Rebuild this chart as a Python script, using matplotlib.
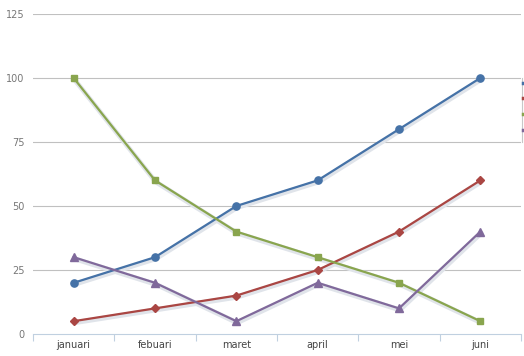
import matplotlib.pyplot as plt
from matplotlib.lines import Line2D
import numpy as np

months = ['januari', 'febuari', 'maret', 'april', 'mei', 'juni']
blue_vals = [20, 30, 50, 60, 80, 100]
red_vals = [5, 10, 15, 25, 40, 60]
green_vals = [100, 60, 40, 30, 20, 5]
purple_vals = [30, 20, 5, 20, 10, 40]
y_ticks = [0, 25, 50, 75, 100, 125]

W, H = 524, 356
fig = plt.figure(figsize=(W / 100, H / 100), dpi=100)
ax = fig.add_axes([33 / W, 1 - 334 / H, 488 / W, 320 / H])

x = np.arange(len(months))
styles = [
    (blue_vals, '#4572A7', 'o', 5.2),
    (red_vals, '#AA4643', 'D', 3.8),
    (green_vals, '#89A54E', 's', 5),
    (purple_vals, '#80699B', '^', 5.5),
]
for vals, color, marker, ms in styles:
    # soft shadow like the original
    ax.plot(x + 0.01, np.array(vals) - 0.6, color='#e0e4ea', lw=3.5, zorder=2,
            solid_capstyle='round')
    ax.plot(x, vals, color=color, lw=1.6, marker=marker, markersize=ms,
            zorder=3)

ax.set_xlim(-0.5, len(months) - 0.5)
ax.set_ylim(0, 125)
ax.set_yticks(y_ticks)
ax.set_yticklabels([str(t) for t in y_ticks])
ax.set_xticks(x)
ax.set_xticklabels(months)
ax.set_xticks(np.arange(-0.5, len(months)), minor=True)

for t in y_ticks[1:]:
    ax.axhline(t, color='#C0C0C0', lw=0.8, zorder=1)

for side in ['top', 'right', 'left']:
    ax.spines[side].set_visible(False)
ax.spines['bottom'].set_color('#C0D0E0')
ax.spines['bottom'].set_linewidth(0.8)

ax.tick_params(axis='y', length=0, labelsize=7, labelcolor='#777777', pad=6)
ax.tick_params(axis='x', which='major', length=0, labelsize=7,
               labelcolor='#444444', pad=4)
ax.tick_params(axis='x', which='minor', length=5, color='#C0D0E0', width=0.8)

# legend is cut off by the right edge: only its symbols peek in
fig.add_artist(Line2D([522 / W, 522 / W], [1 - 78 / H, 1 - 142 / H],
                      color='#C8C8C8', lw=0.8, transform=fig.transFigure))
for (vals, color, marker, ms), ly in zip(styles, [83, 98, 114, 130]):
    fig.add_artist(Line2D([522.5 / W, 524 / W], [1 - ly / H, 1 - ly / H],
                          color=color, lw=2.5, transform=fig.transFigure))

fig.savefig('out.png', dpi=100)
